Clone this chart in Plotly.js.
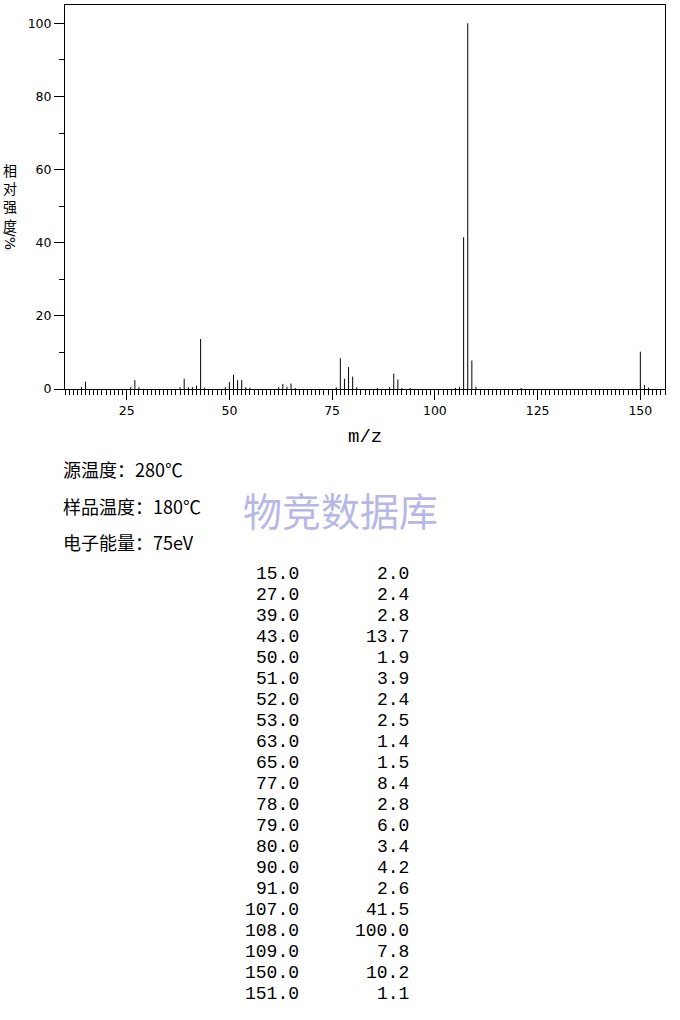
<!DOCTYPE html>
<html>
<head>
<meta charset="utf-8">
<script src="https://cdn.plot.ly/plotly-3.0.1.min.js"></script>
<style>
html,body{margin:0;padding:0;background:#fff;}
#chart{width:680px;height:1020px;}
</style>
</head>
<body>
<div id="chart"></div>
<script>
// Listed peaks (m/z, relative intensity %)
const mz = [15,27,39,43,50,51,52,53,63,65,77,78,79,80,90,91,107,108,109,150,151];
const intensity = [2.0,2.4,2.8,13.7,1.9,3.9,2.4,2.5,1.4,1.5,8.4,2.8,6.0,3.4,4.2,2.6,41.5,100.0,7.8,10.2,1.1];
// Small unlisted peaks visible in the spectrum (estimated)
const minorMz = [14,26,28,38,40,41,42,44,49,54,55,62,64,66,76,81,86,89,92,94,105,106,110,121,152];
const minorIntensity = [0.6,0.6,0.5,0.5,0.5,0.5,0.9,0.4,0.5,0.5,0.4,0.5,0.6,0.3,0.5,0.5,0.3,0.5,0.3,0.3,0.3,0.6,0.6,0.3,0.4];
// Axis ticks
const xTickVals = [25,50,75,100,125,150];
const yTickVals = [0,20,40,60,80,100];
// Text
const xTitle = "m/z";
const yTitleCJK = ["相","对","强","度"];
const yTitleUnit = "/%";
const infoLines = ["源温度：280℃","样品温度：180℃","电子能量：75eV"];
const watermark = "物竞数据库";

const L = 65, R = 15, T = 5, B = 631, W = 680, H = 1020;
const pw = W - L - R, ph = H - T - B;
const px = x => (x - L) / pw;
const py = y => (H - B - y) / ph;

function sticks(xs, ys) {
  const X = [], Y = [];
  xs.forEach((m, i) => { X.push(m, m, null); Y.push(0, ys[i], null); });
  return {X, Y};
}
const all = sticks(mz.concat(minorMz), intensity.concat(minorIntensity));

const traces = [{
  type: 'scatter', mode: 'lines', x: all.X, y: all.Y,
  line: {color: '#000', width: 1}, hoverinfo: 'skip', showlegend: false
}];

const ann = [];
ann.push({xref:'paper', yref:'paper', x: px(365), y: py(437), text: xTitle, showarrow:false,
  xanchor:'center', yanchor:'middle', font:{family:'Liberation Mono', size:19, color:'#000'}});
ann.push({xref:'paper', yref:'paper', x: px(10), y: py(158), text: yTitleCJK.join('<br>'), showarrow:false,
  xanchor:'center', yanchor:'top', font:{family:'Noto Sans CJK SC', size:14, color:'#000'}});
ann.push({xref:'paper', yref:'paper', x: px(10), y: py(241), text: yTitleUnit, showarrow:false,
  xanchor:'center', yanchor:'middle', textangle: 90,
  font:{family:'DejaVu Sans', size:14, color:'#000'}});
const infoY = [469, 506, 542];
infoLines.forEach((t, i) => {
  ann.push({xref:'paper', yref:'paper', x: px(61), y: py(infoY[i]), text: t, showarrow:false,
    xanchor:'left', yanchor:'middle', font:{family:'Noto Sans CJK SC', size:18, color:'#000'}});
});
ann.push({xref:'paper', yref:'paper', x: px(340), y: py(509), text: watermark, showarrow:false,
  xanchor:'center', yanchor:'middle', font:{family:'Noto Sans CJK SC', size:39, color:'#b8b8e6'}});
mz.forEach((m, i) => {
  const y = 574 + i * 21;
  ann.push({xref:'paper', yref:'paper', x: px(301), y: py(y), text: m.toFixed(1), showarrow:false,
    xanchor:'right', yanchor:'middle', font:{family:'Liberation Mono', size:18, color:'#000'}});
  ann.push({xref:'paper', yref:'paper', x: px(411), y: py(y), text: intensity[i].toFixed(1), showarrow:false,
    xanchor:'right', yanchor:'middle', font:{family:'Liberation Mono', size:18, color:'#000'}});
});

const layout = {
  width: W, height: H,
  margin: {l: L, r: R, t: T, b: B, pad: 0},
  paper_bgcolor: '#fff', plot_bgcolor: '#fff',
  showlegend: false,
  xaxis: {
    range: [10, 156], tickmode: 'array', tickvals: xTickVals, ticktext: xTickVals.map(String),
    ticks: 'outside', ticklen: 10, tickwidth: 1, tickcolor: '#000',
    minor: {dtick: 1, tick0: 0, ticks: 'outside', ticklen: 5, tickwidth: 1, tickcolor: '#000', showgrid: false},
    showline: true, linecolor: '#000', linewidth: 1, mirror: true,
    showgrid: false, zeroline: false,
    tickfont: {family: 'DejaVu Sans', size: 12.5, color: '#000'}
  },
  yaxis: {
    range: [0, 105], tickmode: 'array', tickvals: yTickVals, ticktext: yTickVals.map(String),
    ticks: 'outside', ticklen: 10, tickwidth: 1, tickcolor: '#000',
    minor: {dtick: 10, tick0: 0, ticks: 'outside', ticklen: 5, tickwidth: 1, tickcolor: '#000', showgrid: false},
    showline: true, linecolor: '#000', linewidth: 1, mirror: true,
    showgrid: false, zeroline: false,
    tickfont: {family: 'DejaVu Sans', size: 12.5, color: '#000'}
  },
  annotations: ann
};

Plotly.newPlot('chart', traces, layout, {staticPlot: true, displayModeBar: false});
</script>
</body>
</html>
